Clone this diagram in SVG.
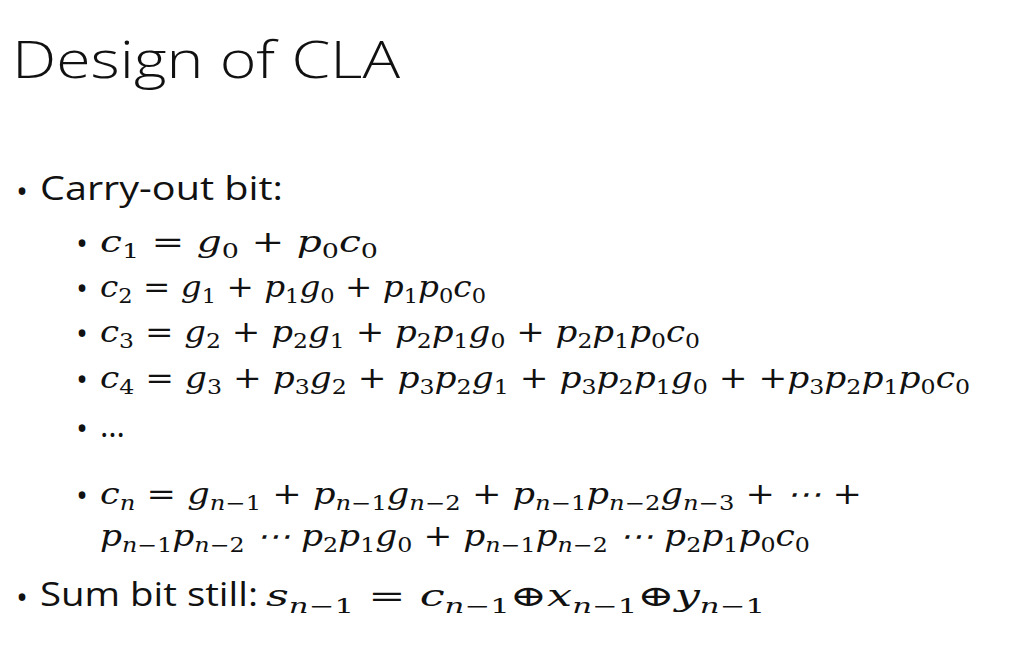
<svg xmlns="http://www.w3.org/2000/svg" width="1024" height="659" viewBox="0 0 1024 659">
<style>
.t{font-family:"Open Sans","Liberation Sans",sans-serif;font-weight:300;font-size:52px;fill:#111}
.b{font-family:"Open Sans","Liberation Sans",sans-serif;font-size:32px;fill:#111}
.m{font-family:"DejaVu Serif","Liberation Serif",serif;font-style:italic;font-size:29px;fill:#111}
.s{font-size:20px;font-style:normal}
.si{font-size:20px;font-style:italic}
</style>
<rect width="1024" height="659" fill="#fff"/>
<text class="t" x="12" y="78" textLength="388" lengthAdjust="spacingAndGlyphs">Design of CLA</text>
<g class="b" font-size="34px">
<text x="16" y="203">•</text><text x="16" y="609">•</text>
</g>
<text class="b" x="40" y="200" textLength="243" lengthAdjust="spacingAndGlyphs">Carry-out bit:</text>
<g class="b" font-size="26px">
<text x="76" y="255">•</text><text x="76" y="300">•</text><text x="76" y="345">•</text><text x="76" y="391">•</text><text x="76" y="440">•</text><text x="76" y="507">•</text>
</g>
<text class="m" x="100" y="252" textLength="278" lengthAdjust="spacingAndGlyphs">c<tspan class="s" dy="6">1</tspan><tspan dy="-6"> = g</tspan><tspan class="s" dy="6">0</tspan><tspan dy="-6"> + p</tspan><tspan class="s" dy="6">0</tspan><tspan dy="-6">c</tspan><tspan class="s" dy="6">0</tspan></text>
<text class="m" x="100" y="297" textLength="386" lengthAdjust="spacingAndGlyphs">c<tspan class="s" dy="6">2</tspan><tspan dy="-6"> = g</tspan><tspan class="s" dy="6">1</tspan><tspan dy="-6"> + p</tspan><tspan class="s" dy="6">1</tspan><tspan dy="-6">g</tspan><tspan class="s" dy="6">0</tspan><tspan dy="-6"> + p</tspan><tspan class="s" dy="6">1</tspan><tspan dy="-6">p</tspan><tspan class="s" dy="6">0</tspan><tspan dy="-6">c</tspan><tspan class="s" dy="6">0</tspan></text>
<text class="m" x="100" y="342" textLength="600" lengthAdjust="spacingAndGlyphs">c<tspan class="s" dy="6">3</tspan><tspan dy="-6"> = g</tspan><tspan class="s" dy="6">2</tspan><tspan dy="-6"> + p</tspan><tspan class="s" dy="6">2</tspan><tspan dy="-6">g</tspan><tspan class="s" dy="6">1</tspan><tspan dy="-6"> + p</tspan><tspan class="s" dy="6">2</tspan><tspan dy="-6">p</tspan><tspan class="s" dy="6">1</tspan><tspan dy="-6">g</tspan><tspan class="s" dy="6">0</tspan><tspan dy="-6"> + p</tspan><tspan class="s" dy="6">2</tspan><tspan dy="-6">p</tspan><tspan class="s" dy="6">1</tspan><tspan dy="-6">p</tspan><tspan class="s" dy="6">0</tspan><tspan dy="-6">c</tspan><tspan class="s" dy="6">0</tspan></text>
<text class="m" x="100" y="388" textLength="870" lengthAdjust="spacingAndGlyphs">c<tspan class="s" dy="6">4</tspan><tspan dy="-6"> = g</tspan><tspan class="s" dy="6">3</tspan><tspan dy="-6"> + p</tspan><tspan class="s" dy="6">3</tspan><tspan dy="-6">g</tspan><tspan class="s" dy="6">2</tspan><tspan dy="-6"> + p</tspan><tspan class="s" dy="6">3</tspan><tspan dy="-6">p</tspan><tspan class="s" dy="6">2</tspan><tspan dy="-6">g</tspan><tspan class="s" dy="6">1</tspan><tspan dy="-6"> + p</tspan><tspan class="s" dy="6">3</tspan><tspan dy="-6">p</tspan><tspan class="s" dy="6">2</tspan><tspan dy="-6">p</tspan><tspan class="s" dy="6">1</tspan><tspan dy="-6">g</tspan><tspan class="s" dy="6">0</tspan><tspan dy="-6"> + +p</tspan><tspan class="s" dy="6">3</tspan><tspan dy="-6">p</tspan><tspan class="s" dy="6">2</tspan><tspan dy="-6">p</tspan><tspan class="s" dy="6">1</tspan><tspan dy="-6">p</tspan><tspan class="s" dy="6">0</tspan><tspan dy="-6">c</tspan><tspan class="s" dy="6">0</tspan></text>
<text class="b" x="100" y="437" font-size="26px">…</text>
<text class="m" x="100" y="504" textLength="762" lengthAdjust="spacingAndGlyphs">c<tspan class="si" dy="6">n</tspan><tspan dy="-6"> = g</tspan><tspan class="si" dy="6">n</tspan><tspan class="s">−1</tspan><tspan dy="-6"> + p</tspan><tspan class="si" dy="6">n</tspan><tspan class="s">−1</tspan><tspan dy="-6">g</tspan><tspan class="si" dy="6">n</tspan><tspan class="s">−2</tspan><tspan dy="-6"> + p</tspan><tspan class="si" dy="6">n</tspan><tspan class="s">−1</tspan><tspan dy="-6">p</tspan><tspan class="si" dy="6">n</tspan><tspan class="s">−2</tspan><tspan dy="-6">g</tspan><tspan class="si" dy="6">n</tspan><tspan class="s">−3</tspan><tspan dy="-6"> + ⋯ +</tspan></text>
<text class="m" x="100" y="546" textLength="710" lengthAdjust="spacingAndGlyphs">p<tspan class="si" dy="6">n</tspan><tspan class="s">−1</tspan><tspan dy="-6">p</tspan><tspan class="si" dy="6">n</tspan><tspan class="s">−2</tspan><tspan dy="-6"> ⋯ p</tspan><tspan class="s" dy="6">2</tspan><tspan dy="-6">p</tspan><tspan class="s" dy="6">1</tspan><tspan dy="-6">g</tspan><tspan class="s" dy="6">0</tspan><tspan dy="-6"> + p</tspan><tspan class="si" dy="6">n</tspan><tspan class="s">−1</tspan><tspan dy="-6">p</tspan><tspan class="si" dy="6">n</tspan><tspan class="s">−2</tspan><tspan dy="-6"> ⋯ p</tspan><tspan class="s" dy="6">2</tspan><tspan dy="-6">p</tspan><tspan class="s" dy="6">1</tspan><tspan dy="-6">p</tspan><tspan class="s" dy="6">0</tspan><tspan dy="-6">c</tspan><tspan class="s" dy="6">0</tspan></text>
<text class="b" x="40" y="606" textLength="218" lengthAdjust="spacingAndGlyphs">Sum bit still:</text>
<text class="m" x="266" y="606" font-size="35px" textLength="499" lengthAdjust="spacingAndGlyphs">s<tspan class="si" font-size="24px" dy="7">n</tspan><tspan class="s" font-size="24px">−1</tspan><tspan dy="-7"> = c</tspan><tspan class="si" font-size="24px" dy="7">n</tspan><tspan class="s" font-size="24px">−1</tspan><tspan dy="-7" font-style="normal">⊕</tspan><tspan>x</tspan><tspan class="si" font-size="24px" dy="7">n</tspan><tspan class="s" font-size="24px">−1</tspan><tspan dy="-7" font-style="normal">⊕</tspan><tspan>y</tspan><tspan class="si" font-size="24px" dy="7">n</tspan><tspan class="s" font-size="24px">−1</tspan></text>
</svg>
